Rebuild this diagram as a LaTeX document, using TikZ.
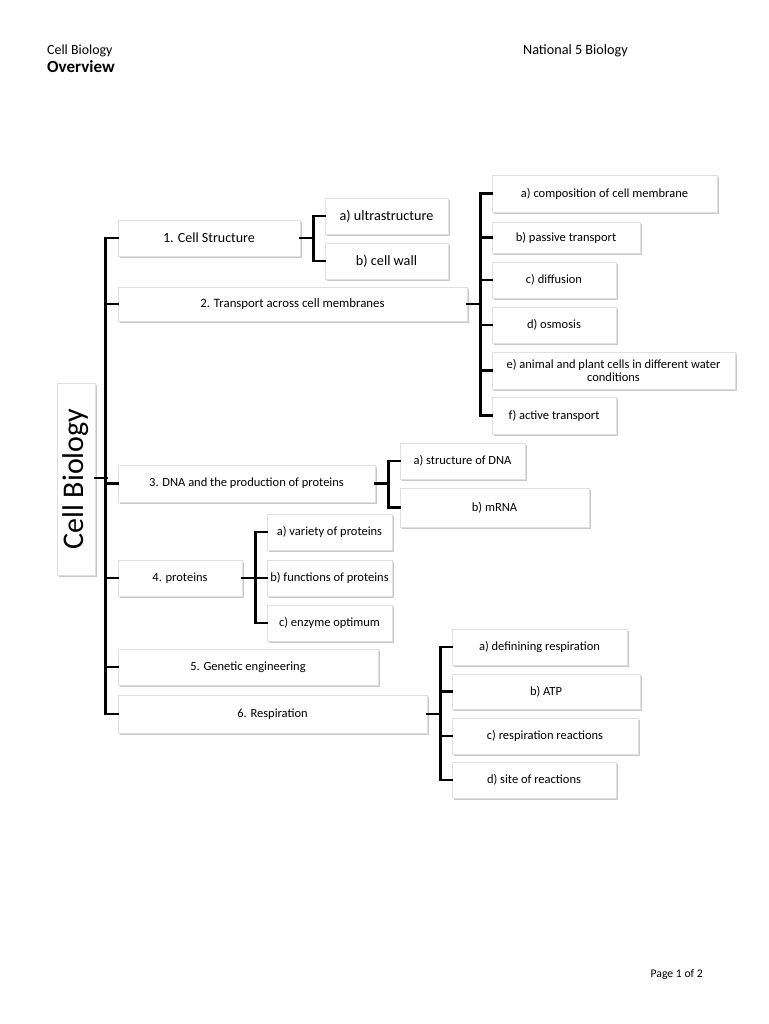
\documentclass[tikz,border=0pt]{standalone}
\usepackage{fontspec}
\setmainfont{Carlito}
\usetikzlibrary{shadows}
\begin{document}
\begin{tikzpicture}[x=1pt,y=-1pt,
  box/.style={draw=black!12, line width=0.4pt, fill=white, inner sep=1pt, align=center,
    drop shadow={shadow xshift=1.6pt, shadow yshift=-2pt, opacity=0.35, fill=black!60},
    font=\fontsize{12.5}{13.5}\selectfont},
  conn/.style={line width=2.7pt, line cap=rect},
  hdr/.style={inner sep=0pt, anchor=base west, font=\fontsize{13.9}{16}\selectfont}]
\useasboundingbox (0,0) rectangle (768,1024);
\fill[white] (0,0) rectangle (768,1024);
% header
\node[hdr] (h1) at (47,55) {Cell Biology};
\node[hdr, font=\fontsize{17}{20}\bfseries\selectfont] (h2) at (47,73) {Overview};
\node[hdr, anchor=base east, font=\fontsize{14.2}{16}\selectfont] (h3) at (628,55) {National 5 Biology};
\node[hdr, anchor=base east, font=\fontsize{11.7}{13}\selectfont] (h4) at (703,977) {Page 1 of 2};
% root
\node[box, minimum width=38, minimum height=192] (root) at (76,479) {};
\node[rotate=90, font=\fontsize{30}{34}\selectfont, inner sep=0pt] (roott) at (76,479) {Cell Biology};
% main boxes
\node[box, minimum width=182, minimum height=36, font=\fontsize{14}{16}\selectfont] (b1) at (209,238) {1. Cell Structure};
\node[box, minimum width=349, minimum height=34, font=\fontsize{12.8}{14}\selectfont] (b2) at (292.5,304) {2. Transport across cell membranes};
\node[box, minimum width=257, minimum height=37] (b3) at (246.5,483.5) {3. DNA and the production of proteins};
\node[box, minimum width=124, minimum height=36] (b4) at (180,578) {4. proteins};
\node[box, minimum width=260, minimum height=36] (b5) at (248,667) {5. Genetic engineering};
\node[box, minimum width=309, minimum height=38] (b6) at (272.5,714) {6. Respiration};
% sub 1
\node[box, minimum width=123, minimum height=36, font=\fontsize{14.2}{16}\selectfont] (s1a) at (386.5,216) {a) ultrastructure};
\node[box, minimum width=123, minimum height=36, font=\fontsize{14.2}{16}\selectfont] (s1b) at (386.5,261) {b) cell wall};
% sub 2
\node[box, minimum width=225, minimum height=37] (s2a) at (604.5,193.5) {a) composition of cell membrane};
\node[box, minimum width=148, minimum height=31] (s2b) at (566,237.5) {b) passive transport};
\node[box, minimum width=124, minimum height=36] (s2c) at (554,280) {c) diffusion};
\node[box, minimum width=124, minimum height=36] (s2d) at (554,325) {d) osmosis};
\node[box, minimum width=243, minimum height=37, font=\fontsize{12.5}{13}\selectfont] (s2e) at (613.5,370.5) {e) animal and plant cells in different water\\conditions};
\node[box, minimum width=124, minimum height=37] (s2f) at (554,415.5) {f) active transport};
% sub 3
\node[box, minimum width=125, minimum height=36] (s3a) at (462.5,461) {a) structure of DNA};
\node[box, minimum width=189, minimum height=39] (s3b) at (494.5,507.5) {b) mRNA};
% sub 4
\node[box, minimum width=125, minimum height=36] (s4a) at (329.5,532) {a) variety of proteins};
\node[box, minimum width=125, minimum height=36] (s4b) at (329.5,578) {b) functions of proteins};
\node[box, minimum width=125, minimum height=36] (s4c) at (329.5,623) {c) enzyme optimum};
% sub 6
\node[box, minimum width=175, minimum height=36] (s6a) at (539.5,647) {a) definining respiration};
\node[box, minimum width=188, minimum height=35] (s6b) at (546,691.5) {b) ATP};
\node[box, minimum width=186, minimum height=36] (s6c) at (545,736) {c) respiration reactions};
\node[box, minimum width=164, minimum height=36] (s6d) at (534,780) {d) site of reactions};
% connectors: main spine
\draw[conn] (root.east) ++(0,-1) -- ++(11,0);
\draw[conn] (b1.west) -- ++(-12,0) coordinate (m) |- (b6.west);
\foreach \n in {b2,b3,b4,b5} \draw[conn] (\n.west) -- ++(-12,0);
% branch 1
\draw[conn] (b1.east) -- ++(13,0) coordinate (c1);
\draw[conn] (c1) |- (s1a.west);
\draw[conn] (c1) |- (s1b.west);
% branch 2
\draw[conn] (b2.east) -- ++(13,0) coordinate (c2);
\foreach \n in {s2a,s2b,s2c,s2d,s2e,s2f} \draw[conn] (c2) |- (\n.west);
% branch 3
\draw[conn] (b3.east) -- ++(13,0) coordinate (c3);
\foreach \n in {s3a,s3b} \draw[conn] (c3) |- (\n.west);
% branch 4
\draw[conn] (b4.east) -- ++(13,0) coordinate (c4);
\foreach \n in {s4a,s4b,s4c} \draw[conn] (c4) |- (\n.west);
% branch 6
\draw[conn] (b6.east) -- ++(13,0) coordinate (c6);
\foreach \n in {s6a,s6b,s6c,s6d} \draw[conn] (c6) |- (\n.west);
\end{tikzpicture}
\end{document}
